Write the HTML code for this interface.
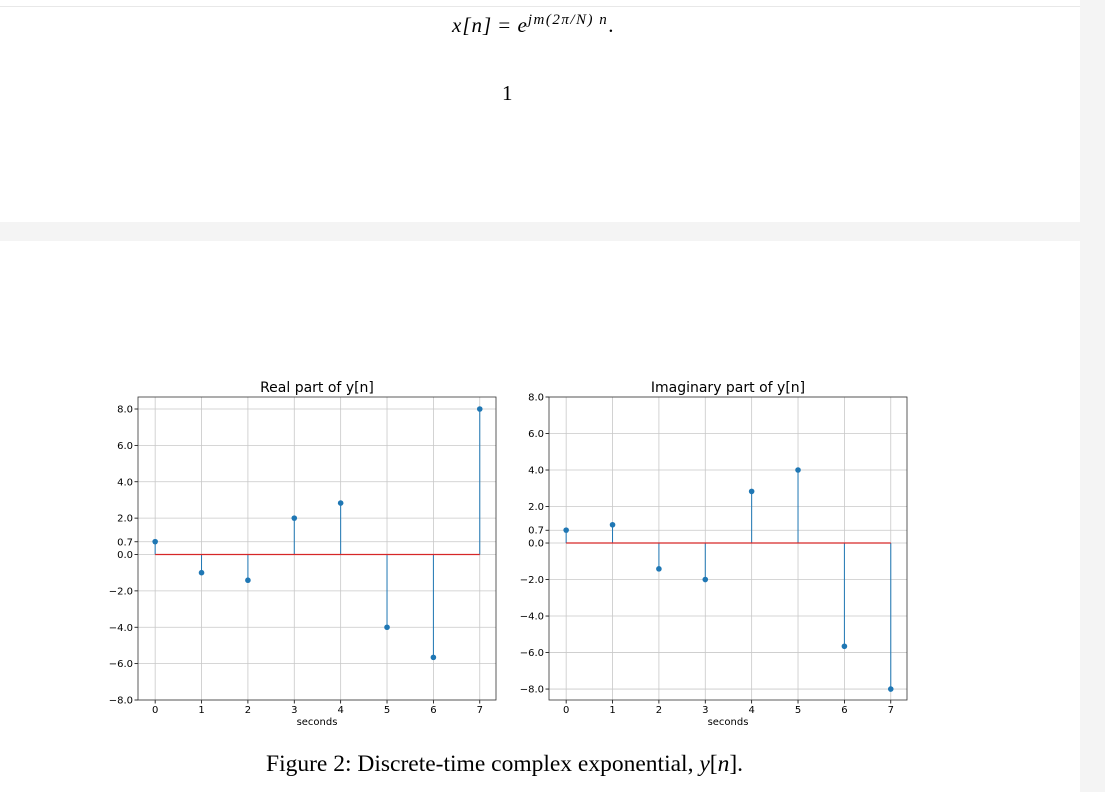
<!DOCTYPE html>
<html><head><meta charset="utf-8"><style>
body{margin:0;width:1105px;height:792px;overflow:hidden;background:#fff;position:relative;font-family:"Liberation Serif",serif}
.abs{position:absolute}
</style></head><body>
<div class="abs" style="left:0;top:6px;width:1080px;height:1px;background:#e8e8e8"></div>
<div class="abs" style="left:0;top:222px;width:1080px;height:19px;background:#f4f4f4"></div>
<div class="abs" style="left:1080px;top:0;width:25px;height:792px;background:#f4f4f4"></div>
<div class="abs" style="left:452px;top:12px;font-size:21px;font-style:italic;letter-spacing:1px">x[n] <span style="font-style:normal">=</span> e<sup style="font-size:15px;letter-spacing:1.5px">jm(2π/N) n</sup><span style="font-style:normal">.</span></div>
<div class="abs" style="left:502px;top:81px;font-size:21px">1</div>
<div class="abs" style="left:266px;top:751px;font-size:23.5px">Figure 2: Discrete-time complex exponential, <i>y</i>[<i>n</i>].</div>
<svg class="abs" style="left:0;top:0" width="1105" height="792" id="fig"></svg>
<script>
const categories=[0,1,2,3,4,5,6,7];
const realValues=[0.707,-1,-1.414,2,2.828,-4,-5.657,8];
const imagValues=[0.707,1,-1.414,-2,2.828,4,-5.657,-8];
const yTicks=[-8,-6,-4,-2,0,0.7,2,4,6,8];
const yTickLabels=["−8.0","−6.0","−4.0","−2.0","0.0","0.7","2.0","4.0","6.0","8.0"];
const svg=document.getElementById('fig');
const NS='http://www.w3.org/2000/svg';
function mk(t,a,p){const e=document.createElementNS(NS,t);for(const k in a)e.setAttribute(k,a[k]);(p||svg).appendChild(e);return e;}
function panel(cfg){
 const g=mk('g',{});
 
 
 const sx=v=>cfg.x0+(v-cfg.xmin)/(cfg.xmax-cfg.xmin)*(cfg.x1-cfg.x0);
 const sy=v=>cfg.y1-(v-cfg.ymin)/(cfg.ymax-cfg.ymin)*(cfg.y1-cfg.y0);
 categories.forEach(c=>{
  const l=mk('line',{x1:sx(c),x2:sx(c),y1:cfg.y0,y2:cfg.y1,stroke:'#c8c8c8','stroke-width':0.8},g);
  
  mk('line',{x1:sx(c),x2:sx(c),y1:cfg.y1,y2:cfg.y1+3.5,stroke:'#000','stroke-width':0.8},g);
  const t=mk('text',{x:sx(c),y:cfg.y1+13,'font-size':10,'text-anchor':'middle','font-family':'DejaVu Sans, sans-serif'},g);
  t.textContent=c;
 });
 yTicks.forEach((v,i)=>{
  const l=mk('line',{x1:cfg.x0,x2:cfg.x1,y1:sy(v),y2:sy(v),stroke:'#c8c8c8','stroke-width':0.8},g);
  
  mk('line',{x1:cfg.x0-3.5,x2:cfg.x0,y1:sy(v),y2:sy(v),stroke:'#000','stroke-width':0.8},g);
  const t=mk('text',{x:cfg.x0-5,y:sy(v)+3.5,'font-size':10,'text-anchor':'end','font-family':'DejaVu Sans, sans-serif'},g);
  t.textContent=yTickLabels[i];
 });
 cfg.values.forEach((v,i)=>{
  const s=mk('line',{x1:sx(categories[i]),x2:sx(categories[i]),y1:sy(0),y2:sy(v),stroke:'#1f77b4','stroke-width':1},g);
  
 });
 const b=mk('line',{x1:sx(categories[0]),x2:sx(categories[categories.length-1]),y1:sy(0),y2:sy(0),stroke:'#d62728','stroke-width':1.2},g);
 
 cfg.values.forEach((v,i)=>{
  const m=mk('circle',{cx:sx(categories[i]),cy:sy(v),r:2.8,fill:'#1f77b4'},g);
  
 });
 const f=mk('rect',{x:cfg.x0,y:cfg.y0,width:cfg.x1-cfg.x0,height:cfg.y1-cfg.y0,fill:'none',stroke:'#333','stroke-width':0.8},g);
 
 const tt=mk('text',{x:(cfg.x0+cfg.x1)/2,y:cfg.y0-5,'font-size':14,'text-anchor':'middle','font-family':'DejaVu Sans, sans-serif'},g);
 tt.textContent=cfg.title;
 const xl=mk('text',{x:(cfg.x0+cfg.x1)/2,y:cfg.y1+25,'font-size':10,'text-anchor':'middle','font-family':'DejaVu Sans, sans-serif'},g);
 xl.textContent='seconds';
}
panel({name:'real-part-chart',title:'Real part of y[n]',values:realValues,x0:138,x1:496,y0:397,y1:700,xmin:-0.37,xmax:7.35,ymin:-8,ymax:8.66});
panel({name:'imaginary-part-chart',title:'Imaginary part of y[n]',values:imagValues,x0:549,x1:907,y0:397,y1:700,xmin:-0.37,xmax:7.35,ymin:-8.6,ymax:8});
</script>
</body></html>
